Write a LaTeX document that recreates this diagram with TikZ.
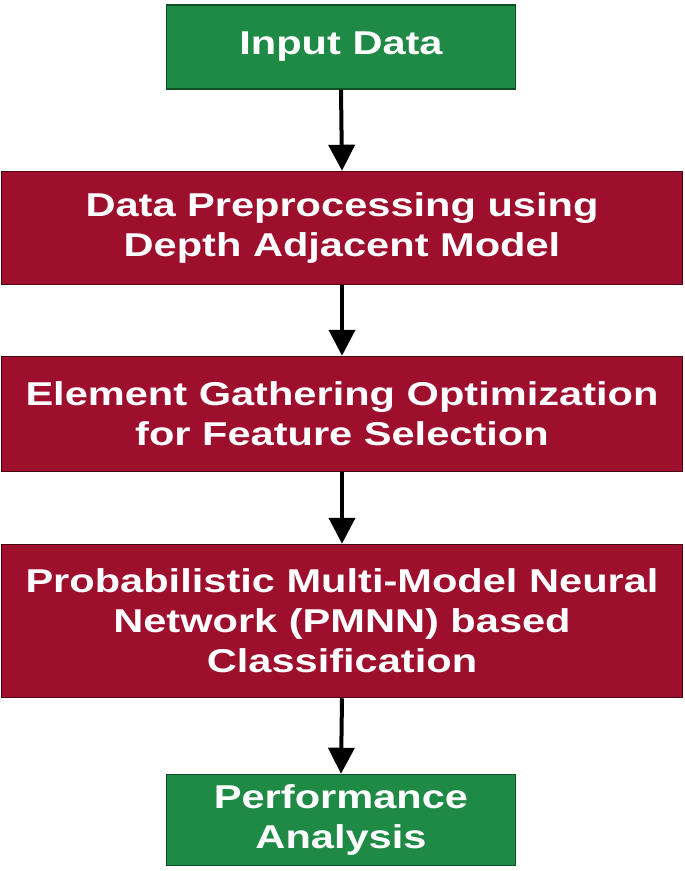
\documentclass[tikz,border=0pt]{standalone}
\usepackage{fontspec}
\setmainfont{Liberation Sans}[FakeStretch=1.26]
\usetikzlibrary{arrows.meta}
\definecolor{gbox}{HTML}{1E8A45}
\definecolor{gline}{HTML}{0E4F22}
\definecolor{rbox}{HTML}{9E0F2E}
\definecolor{rline}{HTML}{4A0612}
\tikzset{
 base/.style={text=white,font=\fontsize{33}{40}\selectfont\bfseries,align=center,line width=1.5pt,inner sep=0pt},
 gstep/.style={base,fill=gbox,draw=gline},
 rstep/.style={base,fill=rbox,draw=rline},
 arr/.style={-{Triangle[length=26pt,width=26pt]},line width=4pt,black}
}
\begin{document}
\begin{tikzpicture}[x=1pt,y=-1pt]
\useasboundingbox (0,0) rectangle (685,871);
\node[gstep,minimum width=349pt,minimum height=84pt] (a) at (341,47) {Input Data};
\node[rstep,minimum width=681pt,minimum height=113pt] (b) at (342,228) {Data Preprocessing using\\Depth Adjacent Model};
\node[rstep,minimum width=681pt,minimum height=115pt] (c) at (342,414) {Element Gathering Optimization\\for Feature Selection};
\node[rstep,minimum width=681pt,minimum height=153pt] (d) at (342,621) {Probabilistic Multi-Model Neural\\Network (PMNN) based\\Classification};
\node[gstep,minimum width=349pt,minimum height=91pt] (e) at (341,820) {Performance\\Analysis};
\draw[arr] (a.south) -- (b.north);
\draw[arr] (b.south) -- (c.north);
\draw[arr] (c.south) -- (d.north);
\draw[arr] (d.south) -- (e.north);
\end{tikzpicture}
\end{document}
